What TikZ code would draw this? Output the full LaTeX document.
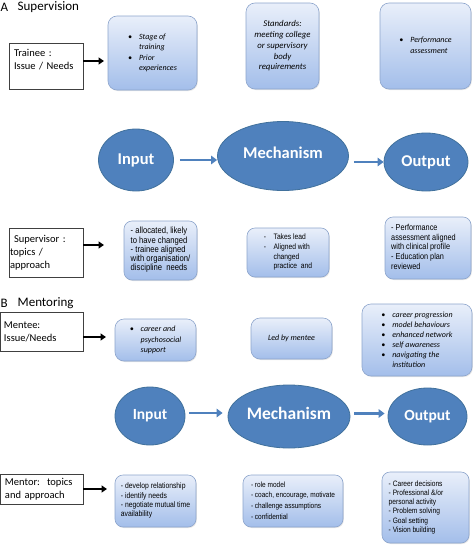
\documentclass[tikz,border=0pt]{standalone}
\usepackage{fontspec}
\setmainfont{Carlito}
\newfontfamily\arialn[FakeStretch=0.85]{Liberation Sans}
\usetikzlibrary{arrows.meta,shadows,shapes.geometric}
\definecolor{ellfill}{HTML}{4F81BD}
\definecolor{elldraw}{HTML}{41719C}
\definecolor{boxtop}{HTML}{E9EFFA}
\definecolor{boxbot}{HTML}{A3BEEA}
\definecolor{boxline}{HTML}{8DA5CC}
\newcommand{\fsz}[2]{\fontsize{#1}{#2}\selectfont}
\tikzset{
  lbox/.style={draw=black!75, line width=0.7pt, fill=white, inner sep=0pt, font=\fsz{10.5}{13}, align=left},
  bbox/.style={draw=boxline, line width=0.6pt, rounded corners=9pt, top color=boxtop, bottom color=boxbot, inner sep=0pt,
     drop shadow={opacity=0.2, shadow xshift=0.8pt, shadow yshift=-1pt}},
  ell/.style={ellipse, draw=elldraw, line width=0.8pt, fill=ellfill, text=white, inner sep=0pt},
  barrow/.style={draw=ellfill, line width=2.6pt, -{Triangle[length=6pt,width=8.5pt]}},
  karrow/.style={draw=black, line width=1.7pt, -{Triangle[length=5.5pt,width=7pt]}},
  ttl/.style={font=\fsz{13}{15}, inner sep=0pt, anchor=west},
  itxt/.style={font=\itshape\fsz{8}{10.5}},
}
\begin{document}
\begin{tikzpicture}[x=1pt,y=-1pt]
\useasboundingbox[fill=white] (0,0) rectangle (474,546);

% ---------- A Supervision ----------
\node[ttl] (tA) at (0.5,7) {A};
\node[ttl] (tSup) at (17.5,7) {Supervision};

\node[lbox, minimum width=74, minimum height=46, text width=64] (trainee) at (46,66) {Trainee :\\Issue / Needs\\\mbox{}};
\coordinate (trA) at (104,61);
\draw[karrow] (trainee.east |- trA) -- (trA);

\node[bbox, minimum width=89, minimum height=74, itxt] (b1) at (152.5,53)
  {\begin{tabular}{@{}l@{\hspace{7pt}}l@{}}\textbullet & Stage of\\ & training\\ \textbullet & Prior\\ & experiences\end{tabular}};
\node[bbox, minimum width=73, minimum height=86, font=\itshape\fsz{8.8}{10.75}, align=center] (b2) at (282.5,46)
  {Standards:\\meeting college\\or supervisory\\body\\requirements};
\node[bbox, minimum width=91, minimum height=86, itxt] (b3) at (425.5,46)
  {\begin{tabular}{@{}l@{\hspace{7pt}}l@{}}\textbullet & Performance\\ & assessment\end{tabular}};

\node[ell, minimum width=75, minimum height=62, font=\bfseries\fsz{16.5}{18}] (inA) at (136,160) {Input};
\node[ell, minimum width=131, minimum height=69, font=\bfseries\fsz{16.5}{18}] (mechA) at (283,156) {\raisebox{6pt}{Mechanism}};
\node[ell, minimum width=84, minimum height=58, font=\bfseries\fsz{16.5}{18}] (outA) at (426,162) {Output};
\draw[barrow, shorten <=6pt] (inA.east) -- (inA.east -| mechA.west);
\draw[barrow, shorten <=5pt] (outA.west -| mechA.east) -- (outA.west);

\node[lbox, minimum width=74, minimum height=49, text width=72] (sup) at (46,252.5) {\hspace*{4pt}Supervisor :\\topics /\\approach};
\coordinate (supA) at (104,245);
\draw[karrow] (sup.east |- supA) -- (supA);

\node[bbox, minimum width=73, minimum height=59, rounded corners=8pt, font=\arialn\fsz{9}{9.2}] (s1) at (160.5,250.5)
  {\begin{tabular}{@{}l@{}}- allocated, likely\\to have changed\\- trainee aligned\\with organisation/\\discipline\ \ needs\end{tabular}};
\node[bbox, minimum width=82, minimum height=49, rounded corners=8pt, font=\arialn\fsz{7.9}{9.7}] (s2) at (288,252.5)
  {\begin{tabular}{@{}l@{\hspace{7.5pt}}l@{}}- & Takes lead\\- & Aligned with\\ & changed\\ & practice\ \ and\end{tabular}};
\node[bbox, minimum width=86, minimum height=62, rounded corners=8pt, font=\arialn\fsz{8.6}{9.75}] (s3) at (428,248)
  {\begin{tabular}{@{}l@{\hspace{9pt}}}- Performance\\assessment aligned\\with clinical profile\\- Education plan\\reviewed\end{tabular}};

% ---------- B Mentoring ----------
\node[ttl] (tB) at (0.5,303) {B};
\node[ttl] (tMen) at (17.5,303) {Mentoring};

\node[lbox, minimum width=82.5, minimum height=39, text width=75.5] (mentee) at (41.75,331.5) {Mentee:\\Issue/Needs};
\coordinate (meA) at (106,337);
\draw[karrow] (mentee.east |- meA) -- (meA);

\node[bbox, minimum width=81, minimum height=42, itxt] (m1) at (155.5,340)
  {\begin{tabular}{@{}l@{\hspace{7pt}}l@{}}\textbullet & career and\\ & psychosocial\\ & support\end{tabular}};
\node[bbox, minimum width=81, minimum height=41, itxt] (m2) at (291.5,338.5) {Led by mentee};
\node[bbox, minimum width=110, minimum height=72, font=\itshape\fsz{8}{10}] (m3) at (417,340)
  {\begin{tabular}{@{}l@{\hspace{7pt}}l@{}}\textbullet & career progression\\ \textbullet & model behaviours\\ \textbullet & enhanced network\\ \textbullet & self awareness\\ \textbullet & navigating the\\ & institution\end{tabular}};

\node[ell, minimum width=70, minimum height=58, font=\bfseries\fsz{15.5}{18}] (inB) at (150,416) {Input};
\node[ell, minimum width=122, minimum height=63, font=\bfseries\fsz{17.5}{19}] (mechB) at (289,416.5) {\raisebox{7pt}{Mechanism}};
\node[ell, minimum width=79, minimum height=57, font=\bfseries\fsz{15.5}{18}] (outB) at (427.5,416.5) {Output};
\coordinate (bl) at ([yshift=3pt]inB.east);
\coordinate (br) at ([yshift=3pt]mechB.east);
\draw[barrow, shorten <=4pt, shorten >=5pt] (bl) -- (bl -| mechB.west);
\draw[barrow, shorten <=4pt, shorten >=3pt] (br) -- (br -| outB.west);

\node[lbox, minimum width=82.5, minimum height=30, text width=73.5] (mentor) at (41.75,489) {Mentor:\ \ topics\\and approach};
\coordinate (moA) at (107,489);
\draw[karrow] (mentor.east |- moA) -- (moA);

\node[bbox, minimum width=81, minimum height=52, rounded corners=8pt, font=\arialn\fsz{8}{9.3}] (m4) at (155.5,501)
  {\begin{tabular}{@{}l@{}}- develop relationship\\- identify needs\\- negotiate mutual time\\availability\end{tabular}};
\node[bbox, minimum width=100, minimum height=52, rounded corners=8pt, font=\arialn\fsz{7.66}{10.7}] (m5) at (293,501)
  {\begin{tabular}{@{}l@{}}- role model\\- coach, encourage, motivate\\- challenge assumptions\\- confidential\end{tabular}};
\node[bbox, minimum width=87, minimum height=71, rounded corners=8pt, font=\arialn\fsz{7.8}{9.2}] (m6) at (425.5,507.5)
  {\begin{tabular}{@{}l@{\hspace{19pt}}}- Career decisions\\- Professional \&/or\\personal activity\\- Problem solving\\- Goal setting\\- Vision building\end{tabular}};
\end{tikzpicture}
\end{document}
